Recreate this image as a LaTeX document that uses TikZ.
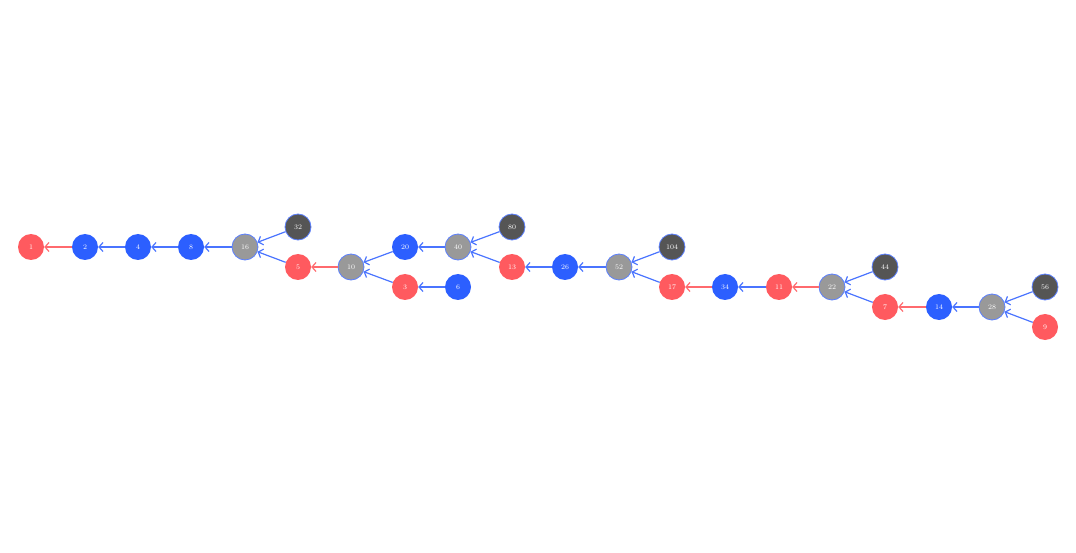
\documentclass[tikz,border=0pt]{standalone}
\usetikzlibrary{arrows.meta}
\definecolor{nred}{HTML}{FF5A5F}
\definecolor{nblue}{HTML}{2C5FFF}
\definecolor{ngray}{HTML}{999999}
\definecolor{ndark}{HTML}{555555}
\definecolor{nbord}{HTML}{5B80FF}
\definecolor{ered}{HTML}{FF6A6E}
\definecolor{eblue}{HTML}{4A74FF}
\begin{document}
\begin{tikzpicture}[x=1pt,y=-1pt,
  nd/.style={circle,minimum size=26pt,inner sep=0pt,text=white,font=\fontsize{7}{7}\selectfont},
  rn/.style={nd,fill=nred},
  bn/.style={nd,fill=nblue},
  gn/.style={nd,fill=ngray,draw=nbord,line width=0.8pt},
  dn/.style={nd,fill=ndark,draw=nbord,line width=0.8pt},
  re/.style={draw=ered,line width=1.2pt,-{Straight Barb[length=4pt,width=9pt]}},
  be/.style={draw=eblue,line width=1.2pt,-{Straight Barb[length=4pt,width=9pt]}}]
\useasboundingbox (0,0) rectangle (1076,553);
\node[rn] (n1) at (31,247) {1};
\node[bn] (n2) at (85,247) {2};
\node[bn] (n4) at (138,247) {4};
\node[bn] (n8) at (191,247) {8};
\node[gn] (n16) at (245,247) {16};
\node[dn] (n32) at (298,227) {32};
\node[rn] (n5) at (298,267) {5};
\node[gn] (n10) at (351,267) {10};
\node[bn] (n20) at (405,247) {20};
\node[rn] (n3) at (405,287) {3};
\node[bn] (n6) at (458,287) {6};
\node[gn] (n40) at (458,247) {40};
\node[dn] (n80) at (512,227) {80};
\node[rn] (n13) at (512,267) {13};
\node[bn] (n26) at (565,267) {26};
\node[gn] (n52) at (619,267) {52};
\node[dn] (n104) at (672,247) {104};
\node[rn] (n17) at (672,287) {17};
\node[bn] (n34) at (725,287) {34};
\node[rn] (n11) at (779,287) {11};
\node[gn] (n22) at (832,287) {22};
\node[dn] (n44) at (885,267) {44};
\node[rn] (n7) at (885,307) {7};
\node[bn] (n14) at (939,307) {14};
\node[gn] (n28) at (992,307) {28};
\node[dn] (n56) at (1045,287) {56};
\node[rn] (n9) at (1045,327) {9};
\draw[re] (n2) -- (n1);
\draw[be] (n4) -- (n2);
\draw[be] (n8) -- (n4);
\draw[be] (n16) -- (n8);
\draw[be] (n32) -- (n16);
\draw[be] (n5) -- (n16);
\draw[re] (n10) -- (n5);
\draw[be] (n20) -- (n10);
\draw[be] (n3) -- (n10);
\draw[be] (n6) -- (n3);
\draw[be] (n40) -- (n20);
\draw[be] (n80) -- (n40);
\draw[be] (n13) -- (n40);
\draw[be] (n26) -- (n13);
\draw[be] (n52) -- (n26);
\draw[be] (n104) -- (n52);
\draw[be] (n17) -- (n52);
\draw[re] (n34) -- (n17);
\draw[be] (n11) -- (n34);
\draw[re] (n22) -- (n11);
\draw[be] (n44) -- (n22);
\draw[be] (n7) -- (n22);
\draw[re] (n14) -- (n7);
\draw[be] (n28) -- (n14);
\draw[be] (n56) -- (n28);
\draw[be] (n9) -- (n28);
\end{tikzpicture}
\end{document}
